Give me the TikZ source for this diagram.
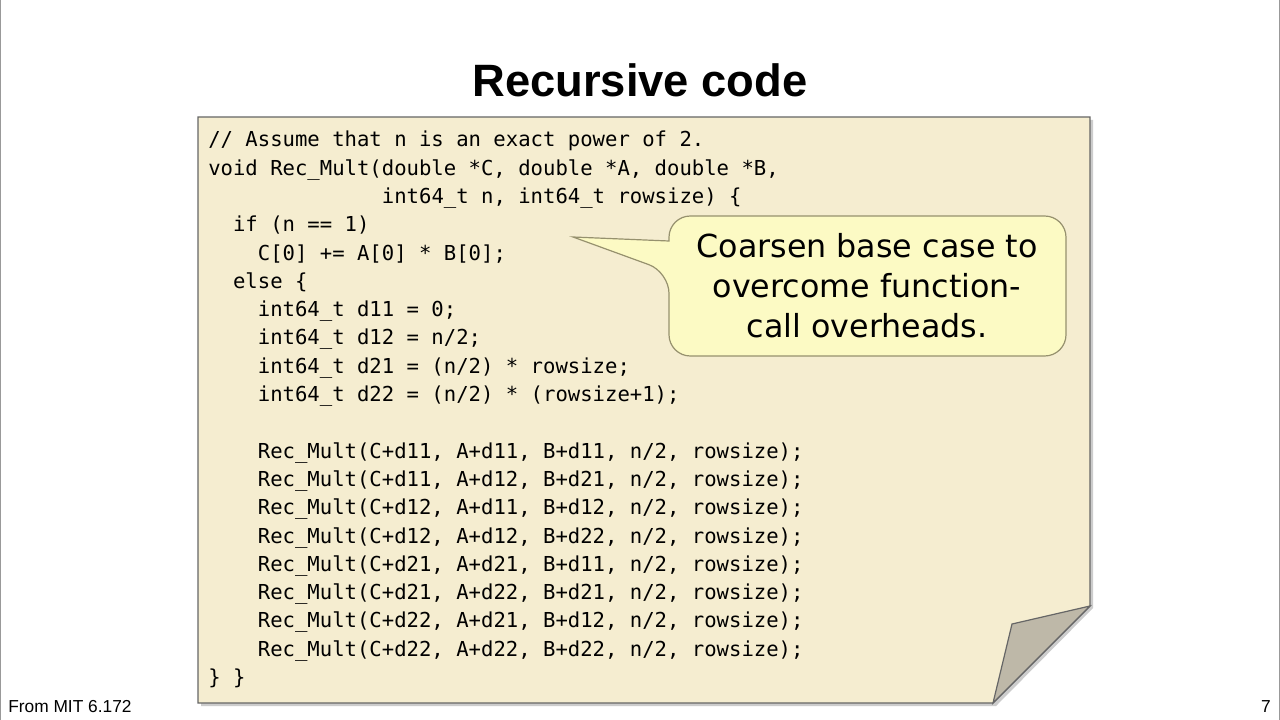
\documentclass[tikz,border=0pt]{standalone}
\usepackage{fontspec}
\setmainfont{Liberation Sans}
\newfontfamily\codefont{DejaVu Sans Mono}
\newfontfamily\callfont{DejaVu Sans}
\begin{document}
\begin{tikzpicture}[x=0.75pt,y=-0.75pt,
  codeline/.style={anchor=west,inner sep=0pt,font=\codefont\fontsize{15.45pt}{18pt}\selectfont},
  paper/.style={draw=black!60,line width=0.9pt}]
\useasboundingbox (0,0) rectangle (1280,720);
\fill[white] (0,0) rectangle (1280,720);
\draw[black!40,line width=0.6pt] (0.5,0) -- (0.5,720) (1279.5,0) -- (1279.5,720);
\node[font=\bfseries\fontsize{34pt}{38pt}\selectfont] (title) at (640,80) {Recursive code};
\fill[black!20] (201,120) -- (1093,120) -- (1093,608) -- (996,706) -- (201,706) -- cycle;
\draw[paper,fill={rgb,255:red,245;green,237;blue,208}] (198,117) -- (1090,117) -- (1090,606) -- (993,703) -- (198,703) -- cycle;
\draw[black!60,line width=0.9pt,fill={rgb,255:red,190;green,184;blue,168}] (1090,606) -- (1012,624) -- (993,703) -- cycle;
\foreach \t [count=\i from 0] in {
{// Assume that n is an exact power of 2.},
{void Rec\_Mult(double *C, double *A, double *B,},
{\ \ \ \ \ \ \ \ \ \ \ \ \ \ int64\_t n, int64\_t rowsize) \{},
{\ \ if (n == 1)},
{\ \ \ \ C[0] += A[0] * B[0];},
{\ \ else \{},
{\ \ \ \ int64\_t d11 = 0;},
{\ \ \ \ int64\_t d12 = n/2;},
{\ \ \ \ int64\_t d21 = (n/2) * rowsize;},
{\ \ \ \ int64\_t d22 = (n/2) * (rowsize+1);},
{},
{\ \ \ \ Rec\_Mult(C+d11, A+d11, B+d11, n/2, rowsize);},
{\ \ \ \ Rec\_Mult(C+d11, A+d12, B+d21, n/2, rowsize);},
{\ \ \ \ Rec\_Mult(C+d12, A+d11, B+d12, n/2, rowsize);},
{\ \ \ \ Rec\_Mult(C+d12, A+d12, B+d22, n/2, rowsize);},
{\ \ \ \ Rec\_Mult(C+d21, A+d21, B+d11, n/2, rowsize);},
{\ \ \ \ Rec\_Mult(C+d21, A+d22, B+d21, n/2, rowsize);},
{\ \ \ \ Rec\_Mult(C+d22, A+d21, B+d12, n/2, rowsize);},
{\ \ \ \ Rec\_Mult(C+d22, A+d22, B+d22, n/2, rowsize);},
{\} \}}}
  \node[codeline] (l\i) at (208,{142+28.3*\i}) {\strut\t};
\draw[line width=0.9pt,draw={rgb,255:red,150;green,145;blue,110},fill={rgb,255:red,252;green,250;blue,196},rounded corners=16pt]
  (700,216) -- (1066,216) -- (1066,356) -- (669,356) -- (669,272) [sharp corners]-- (573,237) -- (669,241) [rounded corners=16pt]-- (669,216) -- (700,216);
\node[font=\callfont\fontsize{23.8pt}{30pt}\selectfont,align=center] (call) at (867,286) {Coarsen base case to\\overcome function-\\call overheads.};
\node[anchor=west,font=\fontsize{13pt}{15pt}\selectfont,inner sep=0pt] (foot) at (8,707) {From MIT 6.172};
\node[anchor=east,font=\fontsize{13pt}{15pt}\selectfont,inner sep=0pt] (pg) at (1271,707) {7};
\end{tikzpicture}
\end{document}
